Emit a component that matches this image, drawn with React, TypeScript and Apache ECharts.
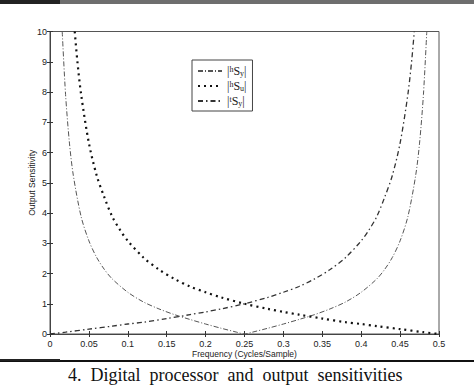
import React, { useEffect, useRef } from "react";
import * as echarts from "echarts";

// Curve A: |hS_y| (thin dash-dot)
const freqA = [0.0157, 0.02, 0.025, 0.03, 0.04, 0.05, 0.06, 0.07, 0.08, 0.1, 0.12, 0.14, 0.16, 0.18, 0.2, 0.22, 0.24, 0.25, 0.26, 0.28, 0.3, 0.32, 0.34, 0.36, 0.38, 0.4, 0.42, 0.43, 0.44, 0.45, 0.46, 0.47, 0.475, 0.48, 0.4843];
const valA = [10, 7.92, 6.31, 5.24, 3.88, 3.08, 2.53, 2.13, 1.82, 1.38, 1.06, 0.83, 0.64, 0.48, 0.33, 0.19, 0.06, 0, 0.06, 0.19, 0.33, 0.48, 0.64, 0.83, 1.06, 1.38, 1.82, 2.13, 2.53, 3.08, 3.88, 5.24, 6.31, 7.92, 10];

// Curve B: |hS_u| (heavy dotted)
const freqB = [0.0318, 0.035, 0.04, 0.05, 0.06, 0.07, 0.08, 0.09, 0.1, 0.12, 0.14, 0.16, 0.18, 0.2, 0.22, 0.25, 0.28, 0.3, 0.32, 0.35, 0.38, 0.4, 0.42, 0.45, 0.48, 0.5];
const valB = [10, 9.06, 7.92, 6.31, 5.24, 4.51, 3.88, 3.44, 3.08, 2.53, 2.13, 1.82, 1.57, 1.38, 1.21, 1.0, 0.83, 0.73, 0.64, 0.51, 0.39, 0.33, 0.26, 0.16, 0.06, 0];

// Curve C: |tS_y| (dash-dot)
const freqC = [0, 0.02, 0.05, 0.08, 0.1, 0.12, 0.15, 0.18, 0.2, 0.22, 0.25, 0.28, 0.3, 0.32, 0.34, 0.36, 0.38, 0.4, 0.41, 0.42, 0.43, 0.44, 0.45, 0.46, 0.465, 0.4682];
const valC = [0, 0.06, 0.16, 0.26, 0.33, 0.39, 0.51, 0.64, 0.73, 0.83, 1.0, 1.21, 1.38, 1.57, 1.82, 2.13, 2.53, 3.08, 3.44, 3.88, 4.51, 5.24, 6.31, 7.92, 9.06, 10];

const seriesNames = ["|hSy|", "|hSu|", "|tSy|"];
const legendRich: Record<string, string> = {
  "|hSy|": "{n||}{sm|h}{n|S}{sb|y}{n||}",
  "|hSu|": "{n||}{sm|h}{n|S}{sb|u}{n||}",
  "|tSy|": "{n||}{sm|t}{n|S}{sb|y}{n||}",
};

const xTicks = { min: 0, max: 0.5, interval: 0.05 };
const yTicks = { min: 0, max: 10, interval: 1 };

const font = "Liberation Sans, Arial, sans-serif";
const serif = "Liberation Serif, serif";

export default function App() {
  const ref = useRef<HTMLDivElement>(null);
  useEffect(() => {
    if (!ref.current) return;
    const chart = echarts.init(ref.current, null, { renderer: "svg" });
    const zip = (xs: number[], ys: number[]) => xs.map((x, i) => [x, ys[i]]);
    const axisCommon = {
      axisLine: { show: true, lineStyle: { color: "#444", width: 1 } },
      axisTick: { show: true, inside: true, length: 3, lineStyle: { color: "#333" } },
      splitLine: { show: false },
    };
    chart.setOption({
      animation: false,
      backgroundColor: "#fff",
      grid: { left: 50, right: 35, top: 31.5, bottom: 54, show: true, borderColor: "#555", borderWidth: 1 },
      legend: {
        data: seriesNames,
        orient: "vertical",
        left: 192,
        top: 60,
        itemWidth: 24,
        itemHeight: 8,
        itemGap: 3,
        padding: [5, 6, 4, 5],
        borderColor: "#444",
        borderWidth: 1,
        backgroundColor: "#fff",
        itemStyle: { opacity: 0 },
        formatter: (n: string) => legendRich[n] || n,
        textStyle: {
          fontFamily: serif,
          fontSize: 12,
          color: "#222",
          rich: {
            n: { fontSize: 12, fontFamily: serif, color: "#222" },
            sm: { fontSize: 8, fontFamily: serif, color: "#222", verticalAlign: "top" },
            sb: { fontSize: 8, fontFamily: serif, color: "#222", verticalAlign: "bottom" },
          },
        },
      },
      xAxis: [
        {
          type: "value",
          ...xTicks,
          ...axisCommon,
          name: "Frequency (Cycles/Sample)",
          nameLocation: "middle",
          nameGap: 15,
          nameMoveOverlap: false,
          nameTextStyle: { fontFamily: font, fontSize: 8.5, color: "#222" },
          axisLabel: {
            fontFamily: font,
            fontSize: 9,
            color: "#222",
            margin: 5,
            formatter: (v: number) => String(Number(v.toFixed(2))),
          },
        },
        {
          type: "value",
          position: "top",
          ...xTicks,
          ...axisCommon,
          axisLabel: { show: false },
        },
      ],
      yAxis: [
        {
          type: "value",
          ...yTicks,
          ...axisCommon,
          name: "Output Sensitivity",
          nameLocation: "middle",
          nameGap: 14,
          nameMoveOverlap: false,
          nameTextStyle: { fontFamily: font, fontSize: 8.5, color: "#222" },
          axisLabel: { fontFamily: font, fontSize: 9, color: "#222", margin: 3 },
        },
        {
          type: "value",
          position: "right",
          ...yTicks,
          ...axisCommon,
          axisLabel: { show: false },
        },
      ],
      series: [
        {
          name: seriesNames[0],
          type: "line",
          data: zip(freqA, valA),
          symbol: "none",
          smooth: 0.3,
          color: "#555",
          lineStyle: { color: "#555", width: 1, type: [5, 2, 1, 2] },
        },
        {
          name: seriesNames[1],
          type: "line",
          data: zip(freqB, valB),
          symbol: "none",
          smooth: 0.3,
          color: "#111",
          lineStyle: { color: "#111", width: 2.2, type: [2, 4] },
        },
        {
          name: seriesNames[2],
          type: "line",
          data: zip(freqC, valC),
          symbol: "none",
          smooth: 0.3,
          color: "#333",
          lineStyle: { color: "#333", width: 1.3, type: [5, 3, 1.5, 3] },
        },
      ],
      graphic: [
        { type: "rect", shape: { x: 0, y: 0, width: 474, height: 4 }, style: { fill: "#6e6e6e" } },
        { type: "rect", shape: { x: 0, y: 0, width: 60, height: 4 }, style: { fill: "#222" } },
        { type: "rect", shape: { x: 0, y: 360, width: 474, height: 2 }, style: { fill: "#111" } },
        { type: "rect", shape: { x: 0, y: 359, width: 60, height: 2 }, style: { fill: "#222" } },
        {
          type: "text",
          left: 68,
          top: 366,
          style: {
            text: "4.  Digital  processor  and  output  sensitivities",
            font: "18px Liberation Serif, serif",
            fill: "#111",
          },
        },
      ],
    });
    return () => chart.dispose();
  }, []);
  return <div ref={ref} style={{ position: "absolute", left: 0, top: 0, width: 474, height: 388, overflow: "hidden" }} />;
}
